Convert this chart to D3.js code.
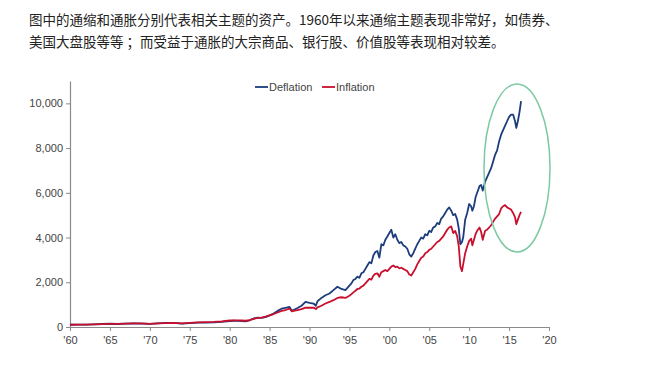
<!DOCTYPE html>
<html>
<head>
<meta charset="utf-8">
<script src="https://cdn.jsdelivr.net/npm/d3@7"></script>
<style>
  body { margin: 0; background: #fff; }
</style>
</head>
<body>
<script>
const width = 660, height = 371;

// time points (decimal years)
const years = [1960,1961,1962,1963,1964,1965,1966,1967,1968,1969,1970,1971,1972,1973,1974,1975,1976,1977,1978,1979,
  1980,1980.5,1981,1981.5,1982,1982.5,1983,1983.5,1984,1984.5,1985,1985.5,1986,1986.5,1987,1987.5,1987.8,1988,1988.5,
  1989,1989.5,1990,1990.5,1990.8,1991,1991.5,1992,1992.5,1993,1993.5,1994,1994.5,
  1995,1995.25,1995.5,1995.75,1996,1996.25,1996.5,1996.75,1997,1997.25,1997.5,1997.75,
  1998,1998.25,1998.5,1998.75,1999,1999.25,1999.5,1999.75,2000,2000.25,2000.5,2000.75,
  2001,2001.25,2001.5,2001.75,2002,2002.25,2002.5,2002.75,2003,2003.25,2003.5,2003.75,
  2004,2004.25,2004.5,2004.75,2005,2005.25,2005.5,2005.75,2006,2006.25,2006.5,2006.75,
  2007,2007.25,2007.5,2007.75,2008,2008.25,2008.5,2008.7,2008.9,2009.1,2009.25,2009.5,2009.75,
  2010,2010.25,2010.4,2010.6,2010.8,2011,2011.3,2011.5,2011.7,2012,2012.25,2012.5,2012.75,
  2013,2013.25,2013.5,2013.75,2014,2014.25,2014.5,2014.75,2015,2015.25,2015.5,2015.75,2015.9,2016.1,2016.3,2016.5];

const deflation = [100,110,105,120,135,145,135,150,165,150,140,165,185,180,150,175,200,200,210,230,
  260,280,270,260,250,300,380,420,410,440,520,600,720,820,860,900,720,760,850,
  950,1120,1080,1050,950,1150,1300,1420,1500,1650,1800,1700,1650,
  1850,1950,2100,2150,2250,2200,2400,2450,2600,2750,2900,2850,
  3200,3350,3400,3100,3700,3650,3900,4050,4200,4350,4000,4150,
  3900,3750,3800,3650,3600,3500,3250,3150,3300,3500,3700,3850,
  4000,3950,4150,4100,4300,4250,4450,4500,4650,4600,4850,4950,
  5100,5250,5350,5200,5000,5050,4800,4400,3700,3800,4000,4800,5100,
  5500,5400,5200,5400,5800,6000,6300,6350,6100,6500,6700,6900,7100,
  7400,7700,7900,8300,8600,8800,9000,9200,9400,9500,9500,9200,8900,9200,9600,10100];

const inflation = [100,110,108,120,130,140,140,150,165,160,140,160,175,180,160,180,205,215,225,250,
  290,300,300,290,280,310,360,410,420,460,520,580,650,720,760,820,700,720,760,
  800,870,860,870,800,880,950,1050,1120,1200,1300,1330,1300,
  1400,1470,1550,1620,1700,1720,1800,1850,1950,2050,2150,2120,
  2300,2380,2400,2250,2450,2500,2550,2500,2600,2700,2750,2680,
  2700,2620,2650,2600,2550,2500,2350,2300,2450,2600,2800,2950,
  3100,3150,3300,3350,3450,3500,3600,3700,3800,3850,3950,4050,
  4200,4350,4450,4500,4200,4300,4050,3600,2700,2500,2800,3300,3600,
  3850,3950,3650,3900,4150,4300,4450,4250,3900,4300,4350,4450,4550,
  4700,4850,4950,5050,5300,5400,5450,5350,5300,5250,5100,4900,4600,4800,5000,5150];

const yTicks = [0, 2000, 4000, 6000, 8000, 10000];
const xTicks = [1960,1965,1970,1975,1980,1985,1990,1995,2000,2005,2010,2015,2020];
const seriesNames = ["Deflation", "Inflation"];
const colors = ["#1c3c7c", "#c8102e"];

const titleLines = [
  "图中的通缩和通胀分别代表相关主题的资产。1960年以来通缩主题表现非常好，如债券、",
  "美国大盘股等等 ；而受益于通胀的大宗商品、银行股、价值股等表现相对较差。"
];

const svg = d3.select("body").append("svg")
    .attr("width", width)
    .attr("height", height);

svg.selectAll("text.title")
  .data(titleLines)
  .join("text")
    .attr("class", "title")
    .attr("x", 29)
    .attr("y", (d, i) => 25 + i * 22)
    .attr("font-family", "Noto Sans CJK SC")
    .attr("font-size", 13.5)
    .attr("fill", "#222")
    .text(d => d);

const x = d3.scaleLinear().domain([1960, 2020]).range([70, 549]);
const y = d3.scaleLinear().domain([0, 11000]).range([327, 81]);

const xAxis = svg.append("g")
    .attr("transform", "translate(0,327)")
    .call(d3.axisBottom(x).tickValues(xTicks).tickSize(4).tickSizeOuter(0)
      .tickFormat(d => "'" + String(d).slice(2)));

const yAxis = svg.append("g")
    .attr("transform", "translate(70,0)")
    .call(d3.axisLeft(y).tickValues(yTicks).tickSize(4).tickSizeOuter(0)
      .tickFormat(d3.format(",")));

[xAxis, yAxis].forEach(g => {
  g.select(".domain").attr("stroke", "#8a8a8a").attr("stroke-width", 1.2);
  g.selectAll(".tick line").attr("stroke", "#8a8a8a");
  g.selectAll(".tick text")
    .attr("font-family", "Liberation Sans")
    .attr("font-size", 11)
    .attr("fill", "#444");
});
xAxis.selectAll(".tick text").attr("dy", "0.95em");

const line = vals => d3.line()
    .x((d, i) => x(years[i]))
    .y(d => y(d))(vals);

[deflation, inflation].forEach((vals, k) => {
  svg.append("path")
    .attr("d", line(vals))
    .attr("fill", "none")
    .attr("stroke", colors[k])
    .attr("stroke-width", 1.8)
    .attr("stroke-linejoin", "round");
});

// legend
const legend = svg.append("g");
seriesNames.forEach((name, k) => {
  const lx = 255 + k * 67;
  legend.append("line")
    .attr("x1", lx).attr("x2", lx + 13)
    .attr("y1", 87).attr("y2", 87)
    .attr("stroke", colors[k])
    .attr("stroke-width", 1.8);
  legend.append("text")
    .attr("x", lx + 14)
    .attr("y", 91)
    .attr("font-family", "Liberation Sans")
    .attr("font-size", 11)
    .attr("fill", "#444")
    .text(name);
});

// highlight ellipse
svg.append("ellipse")
    .attr("cx", 517)
    .attr("cy", 168)
    .attr("rx", 33)
    .attr("ry", 84)
    .attr("fill", "none")
    .attr("stroke", "#7cc9a4")
    .attr("stroke-width", 1.5);
</script>
</body>
</html>
